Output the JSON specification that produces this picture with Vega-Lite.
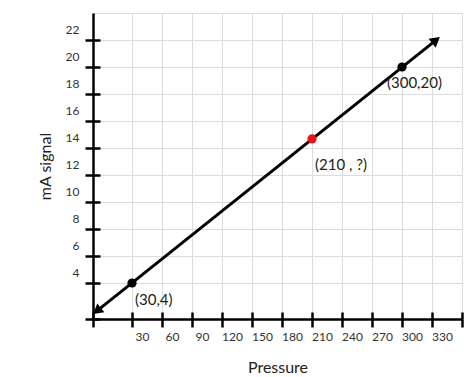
{
  "$schema": "https://vega.github.io/schema/vega-lite/v6.json",
  "width": 369,
  "height": 306,
  "autosize": "none",
  "padding": {"left": 93, "top": 13, "right": 12, "bottom": 58},
  "background": "white",
  "config": {"view": {"stroke": "#dcdcdc", "strokeWidth": 1}, "font": "Lato"},
  "datasets": {
    "line": [{"pressure": -5, "signal": 1.93}, {"pressure": 334, "signal": 21.99}],
    "arrows": [{"pressure": 334, "signal": 21.99, "end": "top"}, {"pressure": -5, "signal": 1.93, "end": "bottom"}],
    "points": [
      {"pressure": 30, "signal": 4, "kind": "known", "label": "(30,4)"},
      {"pressure": 210, "signal": 14.67, "kind": "unknown", "label": "(210 , ?)"},
      {"pressure": 300, "signal": 20, "kind": "known", "label": "(300,20)"}
    ]
  },
  "encoding": {
    "x": {"field": "pressure", "type": "quantitative", "scale": {"domain": [-9, 360], "nice": false, "zero": false}, "axis": null},
    "y": {"field": "signal", "type": "quantitative", "scale": {"domain": [1.333, 24], "nice": false, "zero": false}, "axis": null}
  },
  "layer": [
    {
      "data": {"name": "line"},
      "mark": {"type": "line", "color": "black", "strokeWidth": 3},
      "encoding": {
        "x": {"field": "pressure", "type": "quantitative", "scale": {"domain": [-9, 360], "nice": false, "zero": false},
          "axis": {"orient": "bottom", "values": [-9, 30, 60, 90, 120, 150, 180, 210, 240, 270, 300, 330, 360],
            "labelExpr": "datum.value < 0 || datum.value > 340 ? '' : datum.label",
            "labelOffset": 10, "labelPadding": 4, "labelFontSize": 12, "labelColor": "#333",
            "tickSize": 8, "tickWidth": 2.5, "tickColor": "black", "domainColor": "black", "domainWidth": 2.5,
            "grid": true, "gridColor": "#dcdcdc", "gridWidth": 1,
            "title": "Pressure", "titleFontSize": 16, "titleFontWeight": "normal", "titleColor": "#222", "titlePadding": 17}},
        "y": {"field": "signal", "type": "quantitative", "scale": {"domain": [1.333, 24], "nice": false, "zero": false},
          "axis": {"orient": "left", "values": [1.333, 4, 6, 8, 10, 12, 14, 16, 18, 20, 22],
            "labelExpr": "datum.value < 3 ? '' : datum.label",
            "labelOffset": -10, "labelPadding": 6, "labelFontSize": 12, "labelColor": "#333",
            "tickSize": 8, "tickWidth": 2.5, "tickColor": "black", "domainColor": "black", "domainWidth": 2.5,
            "grid": true, "gridColor": "#dcdcdc", "gridWidth": 1,
            "title": "mA signal", "titleFontSize": 16, "titleFontWeight": "normal", "titleColor": "#222", "titlePadding": 12}}
      }
    },
    {
      "data": {"name": "arrows"},
      "transform": [{"filter": "datum.end == 'top'"}],
      "mark": {"type": "point", "shape": "triangle-up", "filled": true, "color": "black", "opacity": 1, "size": 130, "angle": 51.3}
    },
    {
      "data": {"name": "arrows"},
      "transform": [{"filter": "datum.end == 'bottom'"}],
      "mark": {"type": "point", "shape": "triangle-up", "filled": true, "color": "black", "opacity": 1, "size": 130, "angle": 231.3}
    },
    {
      "data": {"name": "points"},
      "mark": {"type": "circle", "size": 85, "opacity": 1},
      "encoding": {
        "x": {"field": "pressure", "type": "quantitative", "scale": {"domain": [-9, 360], "nice": false, "zero": false},
          "axis": {"orient": "top", "offset": -306, "values": [-9, 30, 60, 90, 120, 150, 180, 210, 240, 270, 300, 330, 360],
            "labels": false, "domain": false, "grid": false, "tickSize": 7, "tickWidth": 2.5, "tickColor": "black", "title": null}},
        "y": {"field": "signal", "type": "quantitative", "scale": {"domain": [1.333, 24], "nice": false, "zero": false},
          "axis": {"orient": "right", "offset": -369, "values": [1.333, 4, 6, 8, 10, 12, 14, 16, 18, 20, 22],
            "labels": false, "domain": false, "grid": false, "tickSize": 7, "tickWidth": 2.5, "tickColor": "black", "title": null}},
        "color": {"field": "kind", "type": "nominal", "scale": {"domain": ["known", "unknown"], "range": ["black", "#e8141b"]}, "legend": null}
      }
    },
    {
      "data": {"name": "points"},
      "transform": [{"filter": "datum.label == '(30,4)'"}],
      "mark": {"type": "text", "align": "left", "baseline": "middle", "dx": 3, "dy": 17, "fontSize": 15, "color": "#222"},
      "encoding": {"text": {"field": "label"}}
    },
    {
      "data": {"name": "points"},
      "transform": [{"filter": "datum.label == '(210 , ?)'"}],
      "mark": {"type": "text", "align": "left", "baseline": "middle", "dx": 3, "dy": 26, "fontSize": 15, "color": "#222"},
      "encoding": {"text": {"field": "label"}}
    },
    {
      "data": {"name": "points"},
      "transform": [{"filter": "datum.label == '(300,20)'"}],
      "mark": {"type": "text", "align": "left", "baseline": "middle", "dx": -15, "dy": 16, "fontSize": 15, "color": "#222"},
      "encoding": {"text": {"field": "label"}}
    }
  ],
  "resolve": {"axis": {"x": "independent", "y": "independent"}}
}
